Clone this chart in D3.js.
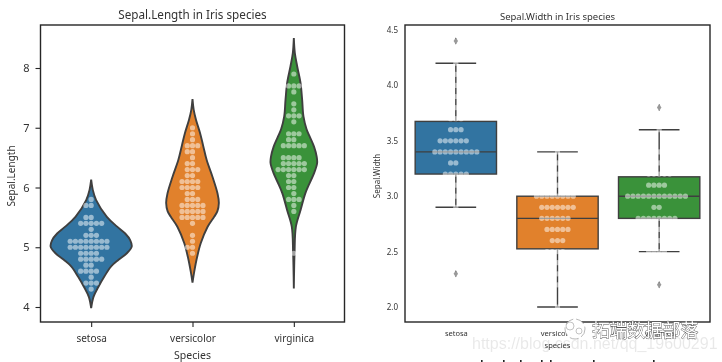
<!DOCTYPE html>
<html>
<head>
<meta charset="utf-8">
<script src="https://cdn.jsdelivr.net/npm/d3@7/dist/d3.min.js"></script>
<style>
html,body{margin:0;padding:0;background:#fff;}
svg{display:block;filter:blur(.35px);}
text{font-family:"Noto Sans","Noto Sans CJK KR",sans-serif;fill:#333;}
</style>
</head>
<body>
<script>
const species = ["setosa","versicolor","virginica"];
const colors = ["#3274a1","#e1812c","#3a923a"];

const lengthTicks = [4,5,6,7,8];
const widthTicks = [2.0,2.5,3.0,3.5,4.0,4.5];

// violin outlines: [sepal length, half width in category units]
const violinSetosa = [[6.13,0],[5.96,.016],[5.79,.049],[5.51,.155],[5.35,.253],[5.23,.336],[5.12,.385],[5.01,.40],[4.90,.352],[4.79,.27],[4.68,.197],[4.51,.13],[4.34,.072],[4.17,.023],[3.98,0]];
const violinVersicolor = [[7.48,0],[7.30,.012],[7.13,.035],[6.91,.075],[6.7,.105],[6.46,.14],[6.18,.197],[5.9,.247],[5.74,.26],[5.6,.245],[5.51,.214],[5.34,.148],[5.07,.082],[4.84,.046],[4.6,.018],[4.41,0]];
const violinVirginica = [[8.50,0],[8.25,.01],[8.03,.033],[7.75,.066],[7.47,.082],[7.19,.095],[6.98,.125],[6.84,.16],[6.68,.2],[6.52,.225],[6.41,.23],[6.24,.2],[6.07,.155],[5.91,.115],[5.62,.066],[5.34,.02],[4.90,.007],[4.31,0]];
const violins = [violinSetosa,violinVersicolor,violinVirginica];

// swarm rows: [value, count]
const lenSetosa = [[5.8,1],[5.7,2],[5.5,2],[5.4,5],[5.3,1],[5.2,3],[5.1,8],[5.0,8],[4.9,4],[4.8,5],[4.7,2],[4.6,4],[4.5,1],[4.4,3],[4.3,1]];
const lenVersicolor = [[7.0,1],[6.9,1],[6.8,1],[6.7,3],[6.6,2],[6.5,1],[6.4,2],[6.3,3],[6.2,2],[6.1,4],[6.0,4],[5.9,2],[5.8,3],[5.7,5],[5.6,5],[5.5,5],[5.4,1],[5.2,1],[5.1,1],[5.0,2],[4.9,1]];
const lenVirginica = [[7.9,1],[7.7,4],[7.6,1],[7.4,1],[7.3,1],[7.2,3],[7.1,1],[6.9,3],[6.8,2],[6.7,5],[6.5,4],[6.4,5],[6.3,6],[6.2,2],[6.1,2],[6.0,2],[5.9,1],[5.8,3],[5.7,1],[5.6,1],[4.9,1]];
const lenSwarms = [lenSetosa,lenVersicolor,lenVirginica];

const widSetosa = [[2.3,1],[2.9,1],[3.0,6],[3.1,4],[3.2,5],[3.3,2],[3.4,9],[3.5,6],[3.6,3],[3.7,3],[3.8,4],[3.9,2],[4.0,1],[4.1,1],[4.2,1],[4.4,1]];
const widVersicolor = [[2.0,1],[2.2,2],[2.3,3],[2.4,3],[2.5,4],[2.6,3],[2.7,5],[2.8,6],[2.9,7],[3.0,8],[3.1,3],[3.2,3],[3.3,1],[3.4,1]];
const widVirginica = [[2.2,1],[2.5,4],[2.6,2],[2.7,4],[2.8,8],[2.9,2],[3.0,12],[3.1,4],[3.2,5],[3.3,3],[3.4,2],[3.6,1],[3.8,2]];
const widSwarms = [widSetosa,widVersicolor,widVirginica];

// box stats
const boxQ1 = [3.2,2.525,2.8];
const boxMedian = [3.4,2.8,3.0];
const boxQ3 = [3.675,3.0,3.175];
const whiskerLow = [2.9,2.0,2.5];
const whiskerHigh = [4.2,3.4,3.6];
const outliers = [[2.3,4.4],[],[2.2,3.8]];

const W=722,H=362;
const svg=d3.select("body").append("svg").attr("width",W).attr("height",H);
const ink="#3f3f3f", frame="#262626";

function panel(x0,x1,y0,y1,dom){
  return {
    x:d3.scaleLinear().domain([-0.5,2.5]).range([x0,x1]),
    y:d3.scaleLinear().domain(dom).range([y1,y0]),
    x0,x1,y0,y1
  };
}
function swarm(g,p,rows,i,step){
  rows.forEach(([v,n])=>{
    d3.range(n).forEach(k=>{
      const col=k-Math.floor(n/2);
      g.append("circle").attr("cx",p.x(i)+col*step).attr("cy",p.y(v)).attr("r",2.6)
        .attr("fill","#fff").attr("fill-opacity",.5);
    });
  });
}
function frameRect(p){
  svg.append("rect").attr("x",p.x0).attr("y",p.y0).attr("width",p.x1-p.x0).attr("height",p.y1-p.y0)
    .attr("fill","none").attr("stroke",frame).attr("stroke-width",1.4);
}

// left: violins
const L=panel(40.5,344.5,25,322,[4-15/59.75,8+43/59.75]);
const gL=svg.append("g");
violins.forEach((pts,i)=>{
  const right=pts.map(d=>[L.x(i+d[1]),L.y(d[0])]);
  const left=pts.slice().reverse().map(d=>[L.x(i-d[1]),L.y(d[0])]);
  const line=d3.line().curve(d3.curveCatmullRom.alpha(.5));
  gL.append("path").attr("d",line(right)+"L"+line(left).slice(1)+"Z")
    .attr("fill",colors[i]).attr("stroke",ink).attr("stroke-width",1.9);
  swarm(gL,L,lenSwarms[i],i,5.25);
});
frameRect(L);
const axLx=svg.append("g").attr("transform",`translate(0,${L.y1})`)
  .call(d3.axisBottom(L.x).tickValues([0,1,2]).tickFormat(i=>species[i]).tickSize(5).tickPadding(8));
const axLy=svg.append("g").attr("transform",`translate(${L.x0},0)`)
  .call(d3.axisLeft(L.y).tickValues(lengthTicks).tickFormat(d3.format("d")).tickSize(5).tickPadding(6));
[axLx,axLy].forEach(a=>{a.select(".domain").remove();a.selectAll("line").attr("stroke",frame).attr("stroke-width",1.1);});
axLx.selectAll("text").style("font-size","10px");
axLy.selectAll("text").style("font-size","11px");
svg.append("text").attr("x",192.5).attr("y",19).attr("text-anchor","middle").style("font-size","11.7px").text("Sepal.Length in Iris species");
svg.append("text").attr("x",192.5).attr("y",359).attr("text-anchor","middle").style("font-size","10.5px").text("Species");
svg.append("text").attr("transform","translate(15,176) rotate(-90)").attr("text-anchor","middle").style("font-size","10px").text("Sepal.Length");

// right: boxes
const R=panel(405,710,25,322,[2.0-15/111,4.5+5/111]);
const gR=svg.append("g");
const boxHalf=.4, capHalf=.2;
species.forEach((s,i)=>{
  const cx=R.x(i);
  gR.append("line").attr("x1",cx).attr("x2",cx).attr("y1",R.y(whiskerHigh[i])).attr("y2",R.y(boxQ3[i])).attr("stroke",ink).attr("stroke-width",1.4);
  gR.append("line").attr("x1",cx).attr("x2",cx).attr("y1",R.y(boxQ1[i])).attr("y2",R.y(whiskerLow[i])).attr("stroke",ink).attr("stroke-width",1.4);
  [whiskerHigh[i],whiskerLow[i]].forEach(v=>{
    gR.append("line").attr("x1",R.x(i-capHalf)).attr("x2",R.x(i+capHalf)).attr("y1",R.y(v)).attr("y2",R.y(v)).attr("stroke",ink).attr("stroke-width",1.4);
  });
  gR.append("rect").attr("x",R.x(i-boxHalf)).attr("width",R.x(i+boxHalf)-R.x(i-boxHalf))
    .attr("y",R.y(boxQ3[i])).attr("height",R.y(boxQ1[i])-R.y(boxQ3[i]))
    .attr("fill",colors[i]).attr("stroke",ink).attr("stroke-width",1.4);
  gR.append("line").attr("x1",R.x(i-boxHalf)).attr("x2",R.x(i+boxHalf)).attr("y1",R.y(boxMedian[i])).attr("y2",R.y(boxMedian[i])).attr("stroke",ink).attr("stroke-width",1.4);
  outliers[i].forEach(v=>{
    const y=R.y(v);
    gR.append("path").attr("d",`M${cx},${y-3.5}L${cx+2.2},${y}L${cx},${y+3.5}L${cx-2.2},${y}Z`).attr("fill","#333");
  });
  swarm(gR,R,widSwarms[i],i,5.25);
});
frameRect(R);
const axRx=svg.append("g").attr("transform",`translate(0,${R.y1})`)
  .call(d3.axisBottom(R.x).tickValues([0,1,2]).tickFormat(i=>species[i]).tickSize(0).tickPadding(6));
const axRy=svg.append("g").attr("transform",`translate(${R.x0},0)`)
  .call(d3.axisLeft(R.y).tickValues(widthTicks).tickFormat(d3.format(".1f")).tickSize(0).tickPadding(7));
[axRx,axRy].forEach(a=>a.select(".domain").remove());
axRx.selectAll("text").attr("dy","1em").style("font-size","7.5px");
axRy.selectAll("text").style("font-size","8px");
svg.append("text").attr("x",557.5).attr("y",20).attr("text-anchor","middle").style("font-size","9.5px").text("Sepal.Width in Iris species");
svg.append("text").attr("x",557.5).attr("y",348).attr("text-anchor","middle").style("font-size","7.5px").text("species");
svg.append("text").attr("transform","translate(380,176) rotate(-90)").attr("text-anchor","middle").style("font-size","8px").text("Sepal.Width");

// watermarks
svg.append("text").attr("x",472).attr("y",349).style("font-family","'Liberation Sans',sans-serif").style("font-size","16px").style("fill","#000").style("fill-opacity",.09).text("https://blog.csdn.net/qq_19600291");
svg.append("circle").attr("cx",575).attr("cy",329).attr("r",10).attr("fill","#fff").attr("stroke","#999").attr("stroke-width",.7).attr("stroke-dasharray","9 3");
svg.append("circle").attr("cx",570).attr("cy",326).attr("r",4).attr("fill","none").attr("stroke","#aaa").attr("stroke-width",.7);
svg.append("circle").attr("cx",579).attr("cy",331).attr("r",3).attr("fill","none").attr("stroke","#aaa").attr("stroke-width",.7);
svg.append("text").attr("x",592).attr("y",337).style("font-size","17.7px").style("font-family","'Noto Sans CJK SC',sans-serif")
  .style("fill","#fff").attr("stroke","#555").attr("stroke-width",.8).attr("paint-order","stroke").text("拓端数据部落");

// tops of a cropped line of text at the bottom edge
const croppedInkX = [481,503,520,541,550,593,653];
svg.selectAll(".crop").data(croppedInkX).enter().append("rect").attr("class","crop")
  .attr("x",d=>d).attr("y",360).attr("width",1.6).attr("height",2).attr("fill","#222");
</script>
</body>
</html>
